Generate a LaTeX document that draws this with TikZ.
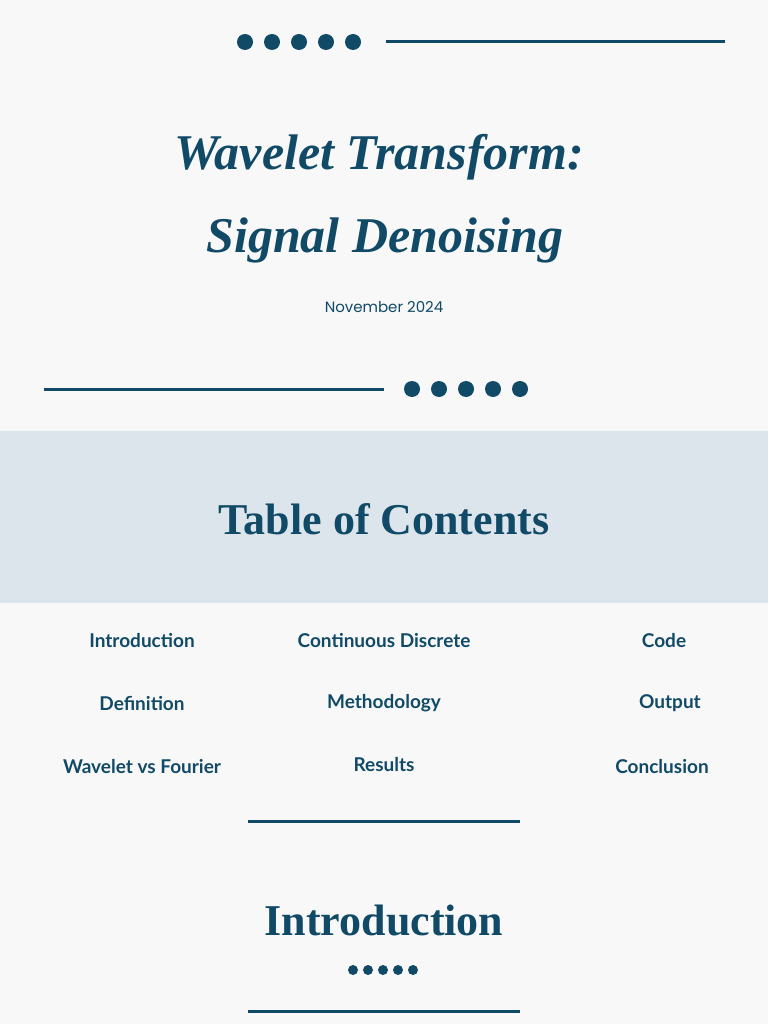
\documentclass[tikz,border=0pt]{standalone}
\usepackage{fontspec}
\setmainfont{Liberation Serif}
\newfontfamily\uisans{Poppins}
\newfontfamily\itemsans{Lato}
\definecolor{ink}{HTML}{114A66}
\definecolor{bg}{HTML}{F8F8F8}
\definecolor{band}{HTML}{DCE5EC}
\begin{document}
\begin{tikzpicture}[x=1pt,y=-1pt,
  dotc/.style={fill=ink,draw=none},
  rule/.style={draw=ink,line width=3pt},
  item/.style={text=ink,font=\itemsans\bfseries\fontsize{19}{21}\selectfont,anchor=center},
  head/.style={text=ink,font=\bfseries\fontsize{44}{50}\selectfont,anchor=center}]
\useasboundingbox (0,0) rectangle (768,1024);
\fill[bg] (0,0) rectangle (768,1024);
\fill[band] (0,431) rectangle (768,603);
\foreach \x in {245,272,299,326,353} \fill[dotc] (\x,42) circle (8);
\coordinate (l1a) at (386,42); \coordinate (l1b) at (725,42);
\draw[rule] (l1a) -- (l1b);
\node[head,font=\bfseries\itshape\fontsize{50}{56}\selectfont] (t1) at (379,157) {Wavelet Transform:};
\node[head,font=\bfseries\itshape\fontsize{50}{56}\selectfont] (t2) at (385,240) {Signal Denoising};
\node[text=ink,font=\uisans\fontsize{15}{17}\selectfont] (date) at (384,307) {November 2024};
\coordinate (l2a) at (44,389); \coordinate (l2b) at (384,389);
\draw[rule] (l2a) -- (l2b);
\foreach \x in {412,439,466,493,520} \fill[dotc] (\x,389) circle (8);
\node[head] (toc) at (384,519) {Table of Contents};
\node[item] (i1) at (142,641) {Introduction};
\node[item] (i2) at (142,703) {Definition};
\node[item] (i3) at (142,767) {Wavelet vs Fourier};
\node[item] (i4) at (384,641) {Continuous Discrete};
\node[item] (i5) at (384,703) {Methodology};
\node[item] (i6) at (384,765) {Results};
\node[item] (i7) at (664,641) {Code};
\node[item] (i8) at (670,703) {Output};
\node[item] (i9) at (662,767) {Conclusion};
\coordinate (l3a) at (248,821); \coordinate (l3b) at (520,821);
\draw[rule] (l3a) -- (l3b);
\node[head] (intro) at (384,920) {Introduction};
\foreach \x in {353,368,383,398,413} \fill[dotc] (\x,970) circle (5);
\coordinate (l4a) at (248,1011); \coordinate (l4b) at (520,1011);
\draw[rule] (l4a) -- (l4b);
\end{tikzpicture}
\end{document}
